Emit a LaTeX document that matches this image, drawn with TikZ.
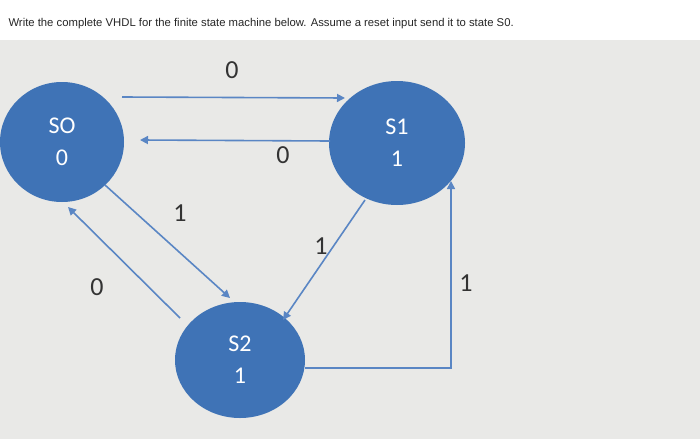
\documentclass[tikz,border=0pt]{standalone}
\usepackage{fontspec}
\setmainfont{Carlito}
\newfontfamily\hdr{Liberation Sans}
\usetikzlibrary{shapes.geometric,calc,arrows.meta}
\definecolor{stblue}{HTML}{3F73B6}
\definecolor{lnblue}{HTML}{5A86C4}
\definecolor{bg}{HTML}{E9E9E7}
\tikzset{
 state/.style={ellipse,fill=stblue,text=white,font=\fontsize{24}{32}\selectfont,align=center,inner sep=0pt},
 tr/.style={draw=lnblue,line width=1.6pt,-{Triangle[length=8pt,width=8pt]}},
 lbl/.style={font=\fontsize{26}{30}\selectfont,text=black!80}
}
\begin{document}
\begin{tikzpicture}[x=1pt,y=-1pt]
\useasboundingbox (0,0) rectangle (700,439);
\fill[bg] (0,40) rectangle (700,439);
\fill[white] (0,0) rectangle (700,40);
\node[font=\hdr\fontsize{11.3}{13}\selectfont,anchor=west,text=black!85] (hd) at (5,24) {Write the complete VHDL for the finite state machine below. Assume a reset input send it to state S0.};
\node[state,minimum width=124pt,minimum height=120pt] (s0) at (62,142) {SO\\0};
\node[state,minimum width=136pt,minimum height=124pt] (s1) at (397,143) {S1\\1};
\node[state,minimum width=130pt,minimum height=116pt] (s2) at (240,360) {S2\\1};
\draw[tr] ($(s0.center)+(60,-45)$) -- ($(s1.center)+(-52,-45)$);
\draw[tr] ($(s1.center)+(-67,-2)$) -- ($(s0.center)+(78,-2)$);
\draw[tr] ($(s0.center)+(43,43)$) -- ($(s2.center)+(-10,-62)$);
\draw[tr] ($(s2.center)+(-60,-42)$) -- ($(s0.center)+(6,65)$);
\draw[tr] ($(s1.center)+(-32,57)$) -- ($(s2.center)+(43,-40)$);
\draw[tr] ($(s2.center)+(65,8)$) -| ($(s1.center)+(54,38)$);
\node[lbl] (l1) at (232,70) {0};
\node[lbl] (l2) at (283,155) {0};
\node[lbl] (l3) at (180,213) {1};
\node[lbl] (l4) at (97,287) {0};
\node[lbl] (l5) at (321,246) {1};
\node[lbl] (l6) at (466,283) {1};
\end{tikzpicture}
\end{document}
